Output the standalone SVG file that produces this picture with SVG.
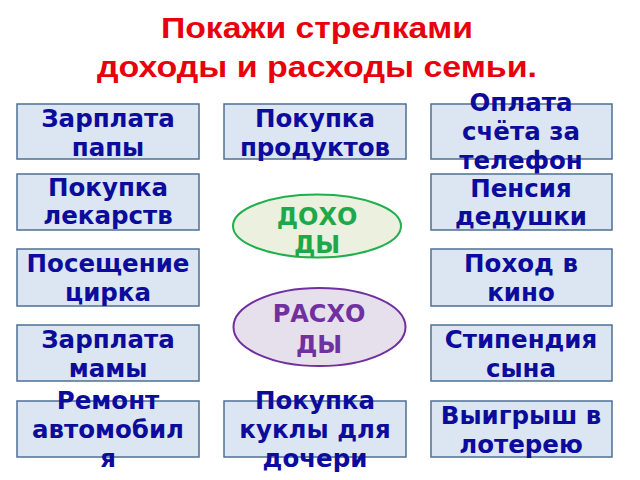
<svg xmlns="http://www.w3.org/2000/svg" width="640" height="480" viewBox="0 0 640 480">
<style>
.title{font-family:"Liberation Sans",Arial,sans-serif;font-weight:bold;font-size:30px;fill:#e8000c;text-anchor:middle}
.box{fill:#dce6f2;stroke:#4f6f94;stroke-width:1.5}
.lbl{font-family:"DejaVu Sans",Verdana,sans-serif;font-weight:bold;font-size:24.5px;fill:#0c0c9c;text-anchor:middle}
.inc{fill:#ebf1de;stroke:#1fb04c;stroke-width:2}
.exp{fill:#e6e0ec;stroke:#7030a0;stroke-width:2}
.inct{font-family:"DejaVu Sans",Verdana,sans-serif;font-weight:bold;font-size:24px;fill:#1fa84a;text-anchor:middle}
.expt{font-family:"DejaVu Sans",Verdana,sans-serif;font-weight:bold;font-size:24px;fill:#7030a0;text-anchor:middle}
</style>
<rect width="640" height="480" fill="#ffffff"/>
<g id="title">
<text class="title" x="317" y="38" textLength="312" lengthAdjust="spacingAndGlyphs">Покажи стрелками</text>
<text class="title" x="317" y="77" textLength="440" lengthAdjust="spacingAndGlyphs">доходы и расходы семьи.</text>
</g>
<g id="connectors"></g>
<g id="n1"><rect class="box" x="17" y="104" width="182" height="55"/><text class="lbl" x="108" y="127">Зарплата</text><text class="lbl" x="108" y="156">папы</text></g>
<g id="n2"><rect class="box" x="224" y="104" width="182" height="55"/><text class="lbl" x="315" y="127">Покупка</text><text class="lbl" x="315" y="156">продуктов</text></g>
<g id="n3"><rect class="box" x="431" y="104" width="181" height="55"/><text class="lbl" x="521" y="111">Оплата</text><text class="lbl" x="521" y="140">счёта за</text><text class="lbl" x="521" y="169">телефон</text></g>
<g id="n4"><rect class="box" x="17" y="174" width="182" height="56"/><text class="lbl" x="108" y="196">Покупка</text><text class="lbl" x="108" y="224">лекарств</text></g>
<g id="n5"><rect class="box" x="431" y="174" width="181" height="56"/><text class="lbl" x="521" y="197">Пенсия</text><text class="lbl" x="521" y="225">дедушки</text></g>
<g id="n6"><rect class="box" x="17" y="249" width="182" height="57"/><text class="lbl" x="108" y="272">Посещение</text><text class="lbl" x="108" y="301">цирка</text></g>
<g id="n7"><rect class="box" x="431" y="249" width="181" height="57"/><text class="lbl" x="521" y="272">Поход в</text><text class="lbl" x="521" y="301">кино</text></g>
<g id="n8"><rect class="box" x="17" y="325" width="182" height="56"/><text class="lbl" x="108" y="348">Зарплата</text><text class="lbl" x="108" y="377">мамы</text></g>
<g id="n9"><rect class="box" x="431" y="325" width="181" height="56"/><text class="lbl" x="521" y="348">Стипендия</text><text class="lbl" x="521" y="377">сына</text></g>
<g id="n10"><rect class="box" x="17" y="401" width="182" height="56"/><text class="lbl" x="108" y="409">Ремонт</text><text class="lbl" x="108" y="438">автомобил</text><text class="lbl" x="108" y="467">я</text></g>
<g id="n11"><rect class="box" x="224" y="401" width="182" height="56"/><text class="lbl" x="315" y="409">Покупка</text><text class="lbl" x="315" y="438">куклы для</text><text class="lbl" x="315" y="467">дочери</text></g>
<g id="n12"><rect class="box" x="431" y="401" width="181" height="56"/><text class="lbl" x="521" y="424">Выигрыш в</text><text class="lbl" x="521" y="453">лотерею</text></g>
<g id="income"><ellipse class="inc" cx="317" cy="226" rx="84" ry="31.5"/><text class="inct" x="317" y="225">ДОХО</text><text class="inct" x="317" y="253">ДЫ</text></g>
<g id="expense"><ellipse class="exp" cx="319.5" cy="327" rx="86" ry="39"/><text class="expt" x="319" y="322">РАСХО</text><text class="expt" x="319" y="353">ДЫ</text></g>
</svg>
